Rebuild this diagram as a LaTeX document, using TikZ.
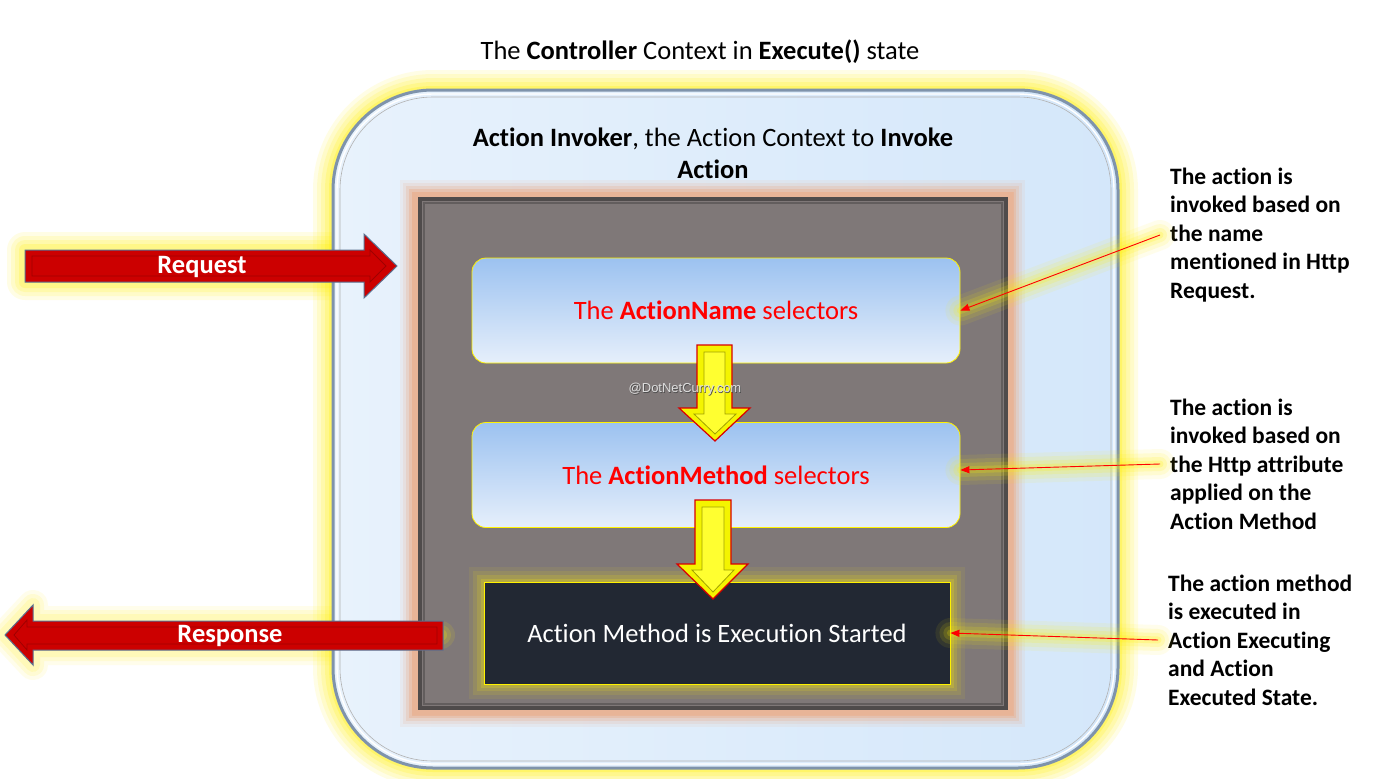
\documentclass[tikz,border=0pt]{standalone}
\usepackage{fontspec}
\setmainfont[RawFeature={-liga;-clig;-dlig;-calt}]{Carlito}
\newfontfamily\wmfont{Liberation Sans}
\usetikzlibrary{arrows.meta,calc}
\definecolor{outerL}{HTML}{E8F2FC}
\definecolor{outerR}{HTML}{D4E7FA}
\definecolor{outerB}{HTML}{7F93AB}
\definecolor{peach}{HTML}{E8B497}
\definecolor{greyfill}{HTML}{7F7878}
\definecolor{greyedge}{HTML}{4F4B4B}
\definecolor{boxtop}{HTML}{9CC2F0}
\definecolor{boxbot}{HTML}{E6EFFB}
\definecolor{darkbox}{HTML}{222833}
\definecolor{redtxt}{HTML}{FF0000}
\definecolor{arrred}{HTML}{CC0000}
\definecolor{arrdark}{HTML}{A00000}
\definecolor{arredge}{HTML}{5A7090}
\definecolor{glowy}{HTML}{FFF200}
\definecolor{yarrow}{HTML}{F4F400}
\definecolor{yarrowin}{HTML}{FFFF30}
\definecolor{yedge}{HTML}{A0A000}
\tikzset{
  txt/.style={font=\fontsize{26.5}{32}\selectfont, inner sep=0pt},
  note/.style={font=\fontsize{23.5}{28.5}\selectfont\bfseries, align=left, inner sep=0pt, anchor=west},
  selbox/.style={shade, top color=boxtop, bottom color=boxbot, draw=yellow, line width=0.8pt,
    rounded corners=14pt, minimum width=488pt, minimum height=105pt,
    font=\fontsize{26.5}{26.5}\selectfont, text=redtxt},
  redarrow/.style={fill=arrred, draw=arredge, line width=1pt},
  yarr/.style={fill=yarrow, draw=red!85!black, line width=1.2pt},
  yarrin/.style={fill=yarrowin, draw=yedge, line width=0.8pt},
  pointer/.style={draw=red, line width=0.9pt, -{Triangle[length=9pt,width=7pt]}},
}
\begin{document}
\begin{tikzpicture}[x=1pt,y=-1pt]
\useasboundingbox[fill=white] (0,0) rectangle (1376,779);

% ---- outer glow
\foreach \w/\o in {40/0.10,32/0.12,24/0.14,16/0.18,8/0.25}{
  \draw[glowy, line width=\w pt, opacity=\o, rounded corners=100pt] (333,90) rectangle (1118,768);
}
% request / response glows
\foreach \w/\o in {36/0.10,28/0.12,20/0.15,12/0.2}{
  \draw[glowy, line width=\w pt, opacity=\o, line join=round] (25,250) -- (365,250) -- (365,234) -- (397,266) -- (365,298) -- (365,282) -- (25,282) -- cycle;
}
\foreach \w/\o in {30/0.08,22/0.1,14/0.12}{
  \draw[glowy, line width=\w pt, opacity=\o, line join=round] (443,621) -- (33,621) -- (33,605) -- (5,635) -- (33,665) -- (33,650) -- (443,650) -- cycle;
}

% ---- outer rounded rectangle
\shade[left color=outerL, right color=outerR, rounded corners=100pt] (333,90) rectangle (1118,768);
\draw[outerB, line width=3pt, rounded corners=100pt] (333,90) rectangle (1118,768);
\draw[white, line width=1.4pt, rounded corners=96pt] (337,94) rectangle (1114,764);
\draw[gray!60, line width=0.6pt, rounded corners=93pt] (340,97) rectangle (1111,761);

% ---- title texts
\node[txt] (title) at (700,52) {The \textbf{Controller} Context in \textbf{Execute()} state};
\node[txt, align=center] (invoker) at (713,153) {\textbf{Action Invoker}, the Action Context to \textbf{Invoke}\\\textbf{Action}};

% ---- peach halo
\foreach \w/\o in {26/0.12,20/0.18,14/0.3,8/0.5,3/0.8}{
  \draw[peach, line width=\w pt, opacity=\o] (413,193) rectangle (1012,714);
}
\fill[peach] (412,192) rectangle (1013,715);

% ---- grey panel
\fill[greyfill] (418,197) rectangle (1008,710);
\draw[greyedge, line width=4pt] (420,199) rectangle (1006,708);
\draw[greyedge!60!greyfill, line width=1.2pt] (424,203) rectangle (1002,704);

% ---- glows on panel
\foreach \w/\o in {30/0.07,22/0.1,14/0.14,7/0.2}{
  \draw[glowy, line width=\w pt, opacity=\o] (484,582) rectangle (950,684);
}
\foreach \w/\o in {28/0.10,20/0.14,12/0.2}{
  \draw[glowy, line width=\w pt, opacity=\o, line cap=round] (330,635) -- (441,635);
}

% ---- selector boxes
\node[selbox] (sel1) at (716,310.5) {The \textbf{ActionName} selectors};
\node[selbox] (sel2) at (716,475) {The \textbf{ActionMethod} selectors};
\node[fill=darkbox, draw=yellow, line width=0.8pt, minimum width=466pt, minimum height=102pt,
      text=white, font=\fontsize{26.5}{26.5}\selectfont] (exec) at (717,633) {Action Method is Execution Started};

% ---- yellow arrows
\path[yarr] (697,345) -- (732,345) -- (732,408) -- (750,408) -- (715,441) -- (679,408) -- (697,408) -- cycle;
\path[yarrin] (704,352) -- (725,352) -- (725,414) -- (736,414) -- (715,434) -- (694,414) -- (704,414) -- cycle;
\path[yarr] (695,500) -- (731,500) -- (731,564) -- (748,564) -- (713,599) -- (677,564) -- (695,564) -- cycle;
\path[yarrin] (702,507) -- (724,507) -- (724,570) -- (734,570) -- (713,592) -- (692,570) -- (702,570) -- cycle;

% ---- watermark
\node[font=\wmfont\fontsize{13}{13}\selectfont, text=black!70, inner sep=0pt] at (685.7,389.7) {@DotNetCurry.com};
\node[font=\wmfont\fontsize{13}{13}\selectfont, text=gray!25, inner sep=0pt] (wm) at (685,389) {@DotNetCurry.com};

% ---- request / response arrows
\path[redarrow] (25,250) -- (364,250) -- (364,234) -- (397,266) -- (364,298) -- (364,282) -- (25,282) -- cycle;
\draw[arrdark, line width=0.8pt] (32,256) -- (370,256) -- (370,250) -- (386,266) -- (370,282) -- (370,276) -- (32,276) -- cycle;
\node[font=\fontsize{26.5}{26.5}\selectfont\bfseries, text=white, inner sep=0pt] (req) at (202,267) {Request};

\path[redarrow] (443,621) -- (33,621) -- (33,605) -- (5,635) -- (33,665) -- (33,650) -- (443,650) -- cycle;
\draw[arrdark, line width=0.8pt] (437,627) -- (27,627) -- (27,620) -- (14,635) -- (27,650) -- (27,644) -- (437,644) -- cycle;
\node[font=\fontsize{26.5}{26.5}\selectfont\bfseries, text=white, inner sep=0pt] (resp) at (230,636) {Response};

% ---- notes
\node[note] (n1) at (1170,235) {The action is\\invoked based on\\the name\\mentioned in Http\\Request.};
\node[note] (n2) at (1170,464) {The action is\\invoked based on\\the Http attribute\\applied on the\\Action Method};
\node[note] (n3) at (1168,640) {The action method\\is executed in\\Action Executing\\and Action\\Executed State.};

% ---- pointer glows
\foreach \w/\o in {30/0.08,22/0.11,14/0.15,7/0.2}{
  \draw[glowy, line width=\w pt, opacity=\o, line cap=round] ([xshift=-10pt]n1.west) -- (sel1.east);
  \draw[glowy, line width=\w pt, opacity=\o, line cap=round] ([xshift=-10pt]n2.west) -- ([yshift=5pt]sel2.east);
  \draw[glowy, line width=\w pt, opacity=\o, line cap=round] ([xshift=-10pt]n3.west) -- (exec.east);
}
% ---- pointers
\draw[pointer] ([xshift=-10pt]n1.west) -- (sel1.east);
\draw[pointer] ([xshift=-10pt]n2.west) -- ([yshift=5pt]sel2.east);
\draw[pointer] ([xshift=-10pt]n3.west) -- (exec.east);
\end{tikzpicture}
\end{document}
